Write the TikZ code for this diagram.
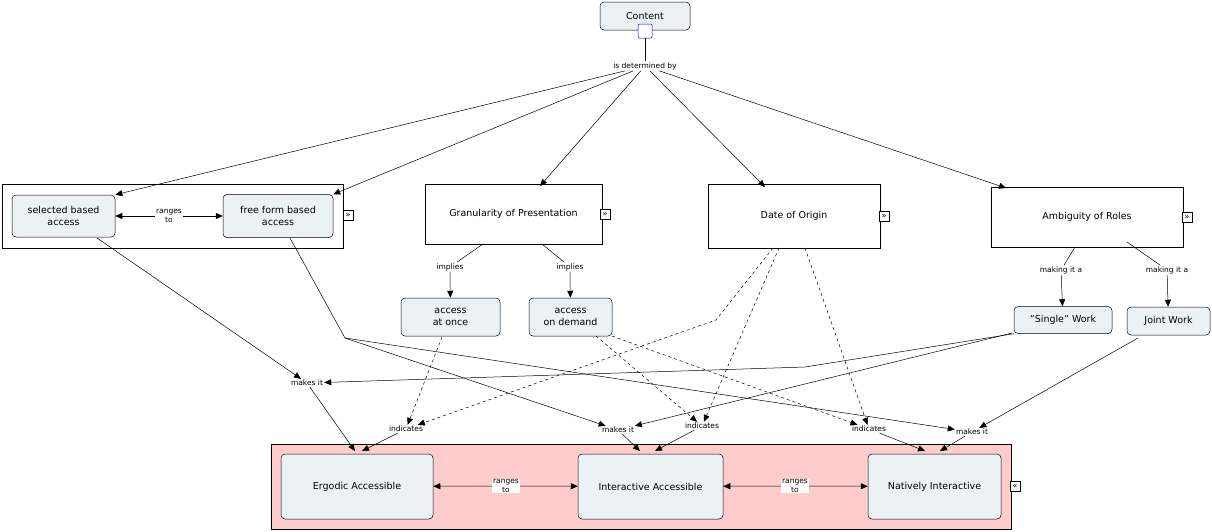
\documentclass[tikz,border=0pt]{standalone}
\usepackage{fontspec}
\setmainfont{DejaVu Sans}
\usetikzlibrary{arrows.meta}
\definecolor{nodefill}{HTML}{EBF2F5}
\definecolor{pinkfill}{HTML}{FFCCCC}
\tikzset{
 cbox/.style={draw,rounded corners=4pt,fill=nodefill,font=\fontsize{9.5}{11.5}\selectfont,align=center,inner sep=0pt},
 sbox/.style={draw,fill=white,font=\fontsize{9.5}{11.5}\selectfont,align=center,inner sep=0pt},
 lbl/.style={fill=white,font=\fontsize{7.5}{8.5}\selectfont,align=center,inner sep=1pt},
 ico/.style={draw,fill=white,minimum size=10pt,inner sep=0pt,font=\fontsize{8}{8}\selectfont},
 arr/.style={-{Triangle[length=7pt,width=6pt]}},
 dsh/.style={dashed,arr}
}
\begin{document}
\begin{tikzpicture}[x=1pt,y=-1pt,line width=0.5pt]
\useasboundingbox (0,0) rectangle (1212,531);
% group boxes
\node[draw,fill=white,minimum width=341,minimum height=64,inner sep=0] (grp) at (172.5,216) {};
\node[draw,fill=pinkfill,minimum width=740,minimum height=85,inner sep=0] (pink) at (641,486.5) {};
% nodes
\node[cbox,minimum width=90,minimum height=28] (content) at (645,16) {Content};
\node[draw=blue!70!black,fill=white,minimum size=14pt,inner sep=0,rounded corners=1pt] (cicon) at (645,31) {};
\node[lbl] (det) at (645,66) {is determined by};
\node[cbox,minimum width=103,minimum height=42] (sel) at (63.5,216) {selected based\\access};
\node[cbox,minimum width=110,minimum height=43] (free) at (278,216) {free form based\\access};
\node[lbl] (rng1) at (169,216) {ranges\\to};
\node[sbox,minimum width=177,minimum height=60] (gran) at (513.5,214) {Granularity of Presentation};
\node[sbox,minimum width=172,minimum height=64] (date) at (794,216) {Date of Origin};
\node[sbox,minimum width=192,minimum height=60] (amb) at (1087,217) {Ambiguity of Roles};
\node[ico] at (348,215) {»};
\node[ico] at (605,214) {»};
\node[ico] at (884,216) {»};
\node[ico] at (1187,217) {»};
\node[ico] at (1015,486) {«};
\node[lbl] (imp1) at (450,267) {implies};
\node[lbl] (imp2) at (570,267) {implies};
\node[cbox,minimum width=99,minimum height=38] (once) at (450.5,317) {access\\at once};
\node[cbox,minimum width=83,minimum height=38] (dem) at (570.5,317) {access\\on demand};
\node[lbl] (mk1) at (1061,270) {making it a};
\node[lbl] (mk2) at (1167,270) {making it a};
\node[cbox,minimum width=98,minimum height=27] (single) at (1063,320) {\symbol{34}Single\symbol{34} Work};
\node[cbox,minimum width=83,minimum height=28] (joint) at (1168.5,321) {Joint Work};
\node[lbl] (mi1) at (307,383) {makes it};
\node[lbl] (in1) at (406,429) {indicates};
\node[lbl] (mi2) at (618,430) {makes it};
\node[lbl] (in2) at (702,426) {indicates};
\node[lbl] (in3) at (869,429) {indicates};
\node[lbl] (mi3) at (972,432) {makes it};
\node[cbox,minimum width=152,minimum height=65] (erg) at (357,486.5) {Ergodic Accessible};
\node[cbox,minimum width=145,minimum height=65] (int) at (650.5,486.5) {Interactive Accessible};
\node[cbox,minimum width=133,minimum height=65] (nat) at (934.5,486.5) {Natively Interactive};
\node[lbl] (rng2) at (506,486) {ranges\\to};
\node[lbl] (rng3) at (795,486) {ranges\\to};
% connectors
\draw (cicon) -- (det);
\draw[arr] (det) -- (sel.north east);
\draw[arr] (det) -- (free.north east);
\draw[arr] (det) -- (540,186);
\draw[arr] (det) -- (765,187);
\draw[arr] (det) -- (1006,188);
\draw[arr] (rng1) -- (sel);
\draw[arr] (rng1) -- (free);
\draw (483,244) -- (imp1); \draw[arr] (imp1) -- (once);
\draw (542,244) -- (imp2); \draw[arr] (imp2) -- (dem);
\draw (1075,247) -- (mk1); \draw[arr] (mk1) -- (single);
\draw (1127,242) -- (mk2); \draw[arr] (mk2) -- (joint);
\coordinate (bend) at (345,338);
\draw[arr] (97,238) -- (mi1);
\draw[arr] (mi1) -- (355,451);
\draw (290,238) -- (bend);
\draw[arr] (bend) -- (mi2);
\draw[arr] (bend) -- (mi3);
\coordinate (sb) at (805,367);
\draw[arr] (single.south west) -- (sb) -- (mi1);
\draw[arr] (1012,333) -- (mi2);
\draw[arr] (1138,338) -- (mi3);
\draw[arr] (mi2) -- (640,451);
\draw[arr] (mi3) -- (940,451);
\coordinate (db) at (716,320);
\draw[dsh] (442,337) -- (in1);
\draw[dsh] (773,248) -- (db) -- (in1);
\draw[dsh] (779,248) -- (in2);
\draw[dsh] (805,248) -- (in3);
\draw[dsh] (596,336) -- (in2);
\draw[dsh] (612,336) -- (in3);
\draw[arr] (in1) -- (362,451);
\draw[arr] (in2) -- (655,451);
\draw[arr] (in3) -- (925,451);
\draw[arr] (rng2) -- (erg);
\draw[arr] (rng2) -- (int);
\draw[arr] (rng3) -- (int);
\draw[arr] (rng3) -- (nat);
\end{tikzpicture}
\end{document}
